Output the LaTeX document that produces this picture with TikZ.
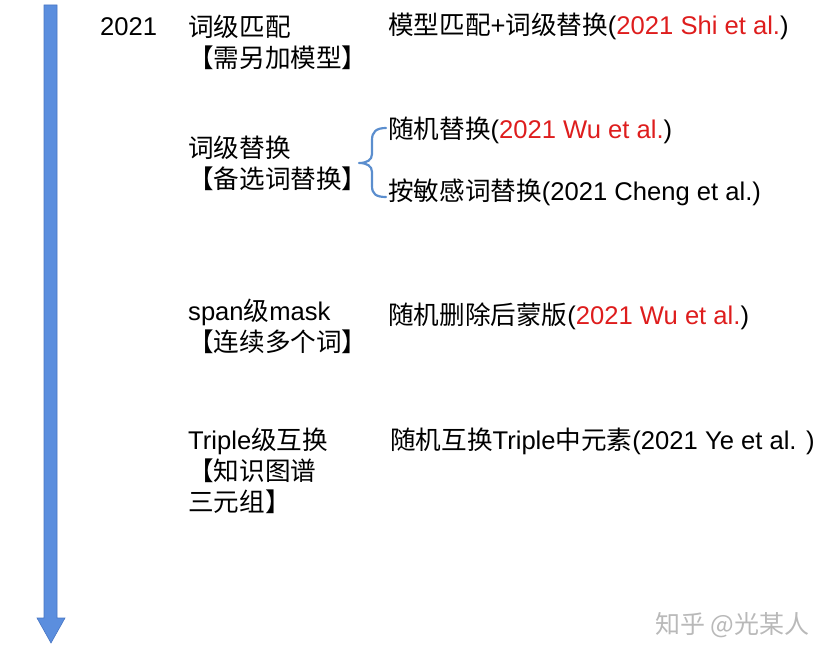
\documentclass[tikz,border=0pt]{standalone}
\usepackage{fontspec}
\setmainfont{Liberation Sans}
\newfontfamily\cjk{Noto Sans CJK SC}
\usetikzlibrary{positioning}
\definecolor{arrowblue}{RGB}{91,142,222}
\definecolor{arrowedge}{RGB}{72,118,196}
\definecolor{braceblue}{RGB}{91,142,206}
\definecolor{citered}{RGB}{222,29,29}
\definecolor{markgray}{RGB}{185,185,185}
\newcommand{\zh}[1]{{\cjk #1}} % Chinese text
\newcommand{\refred}[1]{\textcolor{citered}{#1}} % red citation
\tikzset{
textblock/.style={ % Sets the properties for each text block
font=\fontsize{25.6}{31}\selectfont,
anchor=west, align=left,
inner sep=0pt},
brace line/.style={ % The curly bracket
draw=braceblue, line width=2.2pt,
line cap=round, line join=round},
watermark/.style={
font=\cjk\fontsize{25}{28}\selectfont,
text=markgray, anchor=west, inner sep=0pt}}

\begin{document}
\begin{tikzpicture}[x=1pt, y=-1pt]
    \useasboundingbox (0,0) rectangle (831,658);
    % time arrow
    \filldraw[fill=arrowblue, draw=arrowedge, line width=0.6pt]
        (44,5) -- (57,5) -- (57,618) -- (65,618) -- (51,643)
        -- (37,618) -- (44,618) -- cycle;
    \node[textblock] (year) at (100,26.5) {2021};
    \node[textblock] (match) at (188,42) {\zh{词级匹配}\\\zh{【需另加模型】}};
    \node[textblock] (matchref) at (388,26.5) {\zh{模型匹配}+\zh{词级替换}(\refred{2021 Shi et al.})};
    \node[textblock] (subst) at (188,163) {\zh{词级替换}\\\zh{【备选词替换】}};
    \node[textblock] (randsub) at (388,130.5) {\zh{随机替换}(\refred{2021 Wu et al.})};
    \node[textblock] (senssub) at (388,192.5) {\zh{按敏感词替换}(2021 Cheng et al.)};
    \node[textblock] (span) at (188,326) {span\zh{级}mask\\\zh{【连续多个词】}};
    \node[textblock] (spanref) at (388,316.5) {\zh{随机删除后蒙版}(\refred{2021 Wu et al.})};
    \node[textblock] (triple) at (188,470.5) {Triple\zh{级互换}\\\zh{【知识图谱}\\\zh{三元组】}};
    \node[textblock] (tripleref) at (390,441.5) {\zh{随机互换}Triple\zh{中元素}(2021 Ye et al. )};
    % bracket
    \draw[brace line] (386,128) .. controls (376,128) and (372,132) .. (372,140)
        -- (372,154) .. controls (372,160) and (367,163) .. (359,163)
        .. controls (367,163) and (372,166) .. (372,172)
        -- (372,186) .. controls (372,194) and (376,197) .. (386,197);
    \node[watermark] (mark) at (655,625) {知乎 @光某人};
\end{tikzpicture}
\end{document}
